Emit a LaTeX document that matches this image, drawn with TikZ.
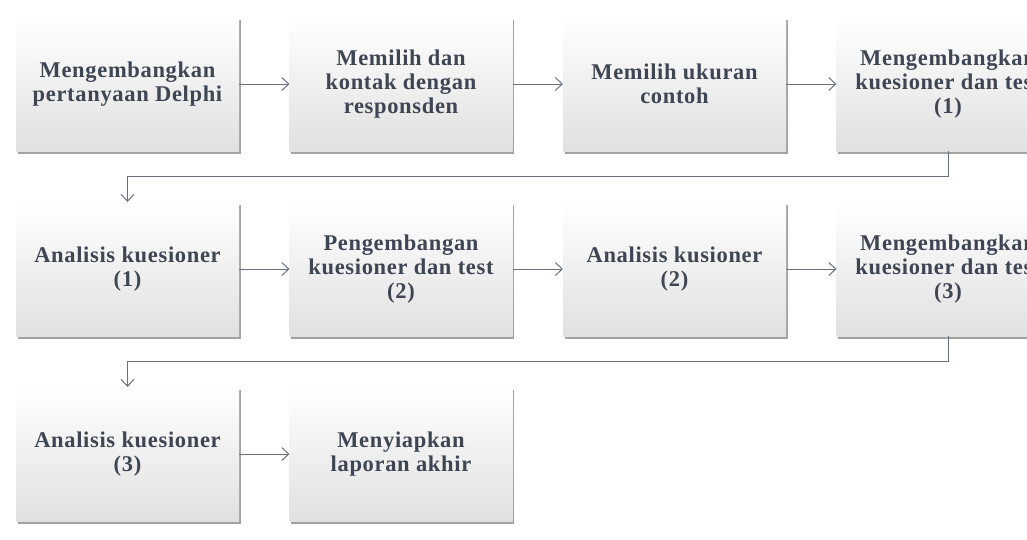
\documentclass[tikz,border=0pt]{standalone}
\usepackage{fontspec}
\setmainfont{Liberation Serif}[LetterSpace=3]
\usetikzlibrary{
    arrows.meta,
    positioning,
    shadows
}
\definecolor{ink}{HTML}{3E4553}
\definecolor{wire}{HTML}{6A707C}
\tikzset{
    every picture/.style = {
        > = {Straight Barb[length=7pt, width=13pt]}
    },
    stage/.style = {
        rectangle,
        minimum width = 223pt,
        minimum height = 134pt,
        inner sep = 2pt,
        outer sep = 0pt,
        top color = white,
        middle color = white,
        bottom color = black!12,
        drop shadow = {shadow xshift = 1.5pt, shadow yshift = -2.5pt, opacity = 0.6, fill = black!60},
        text = ink,
        align = center,
        font = \bfseries\fontsize{22.5}{24}\selectfont
    },
    link/.style = {
        draw = wire,
        line width = 1pt
    }
}

\begin{document}
\begin{tikzpicture}[x = 1pt, y = -1pt]
    \useasboundingbox (0,0) rectangle (1027,539);
    \clip (0,0) rectangle (1027,539);

    \node[stage] (1) at (127.5,84) {Mengembangkan\\pertanyaan Delphi};
    \node[stage] (2)[right = 50.5pt of 1] {Memilih dan\\kontak dengan\\responsden};
    \node[stage] (3)[right = 50.5pt of 2] {Memilih ukuran\\contoh};
    \node[stage] (4)[right = 50.5pt of 3] {Mengembangkan\\kuesioner dan test\\(1)};
    \node[stage] (5)[below = 51pt of 1] {Analisis kuesioner\\(1)};
    \node[stage] (6)[right = 50.5pt of 5] {Pengembangan\\kuesioner dan test\\(2)};
    \node[stage] (7)[right = 50.5pt of 6] {Analisis kusioner\\(2)};
    \node[stage] (8)[right = 50.5pt of 7] {Mengembangkan\\kuesioner dan test\\(3)};
    \node[stage] (9)[below = 51pt of 5] {Analisis kuesioner\\(3)};
    \node[stage] (10)[right = 50.5pt of 9] {Menyiapkan\\laporan akhir};

    \path[link, ->] (1) edge (2);
    \path[link, ->] (2) edge (3);
    \path[link, ->] (3) edge (4);
    \draw[link, ->] (4.south) -- ++(0,25) -| (5.north);
    \path[link, ->] (5) edge (6);
    \path[link, ->] (6) edge (7);
    \path[link, ->] (7) edge (8);
    \draw[link, ->] (8.south) -- ++(0,25) -| (9.north);
    \path[link, ->] (9) edge (10);
\end{tikzpicture}
\end{document}
